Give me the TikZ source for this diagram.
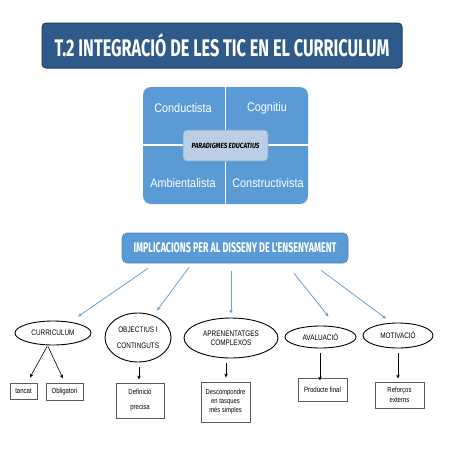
\documentclass[tikz,border=0pt]{standalone}
\usepackage{fontspec}
\usepackage{graphicx}
\usetikzlibrary{shapes.geometric,arrows.meta,calc}
\newfontfamily\nsans[FakeStretch=0.8]{Liberation Sans}
\newfontfamily\gsans[FakeStretch=0.87]{Liberation Sans}
\newfontfamily\comic{Fira Sans}
\definecolor{titleblue}{HTML}{2D5A88}
\definecolor{titleedge}{HTML}{1E3F62}
\definecolor{gridblue}{HTML}{5B9BD5}
\definecolor{implblue}{HTML}{5B9BD5}
\definecolor{centerfill}{HTML}{BCCDE6}
\definecolor{centeredge}{HTML}{7FA3D3}
\definecolor{arrowblue}{HTML}{6C9FD0}
\definecolor{boxedge}{HTML}{5A5A5A}
\tikzset{
  ell/.style={ellipse, draw=black, line width=0.9pt, fill=white, inner sep=0pt, align=center, font=\nsans\fontsize{8}{10}\selectfont},
  leaf/.style={rectangle, draw=boxedge, line width=0.9pt, fill=white, inner sep=0pt, align=center, font=\nsans\fontsize{7.5}{10}\selectfont},
  gridtext/.style={text=white, font=\gsans\fontsize{12.5}{14}\selectfont},
  barrow/.style={draw=arrowblue, line width=0.8pt, -{Stealth[length=4pt,width=3.5pt]}},
  karrow/.style={draw=black, line width=0.6pt, -{Stealth[length=4pt,width=3.5pt]}},
}
\begin{document}
\begin{tikzpicture}[x=1pt,y=-1pt]
\useasboundingbox (0,0) rectangle (453,453);
\fill[white] (0,0) rectangle (453,453);

% title
\node[rectangle, rounded corners=4pt, fill=titleblue, draw=titleedge, line width=1pt,
  minimum width=360pt, minimum height=45pt, inner sep=0pt] (title) at (222,45.5) {};
\node[text=white, inner sep=0pt] (titletext) at (title.center)
  {\resizebox{335pt}{\height}{\comic\bfseries\fontsize{24}{24}\selectfont T.2 INTEGRACIÓ DE LES TIC EN EL CURRICULUM}};

% paradigm grid
\fill[gridblue, rounded corners=8pt] (143,87) rectangle (308,204);
\draw[white, line width=1.3pt] (225.5,87) -- (225.5,204);
\draw[white, line width=1.3pt] (143,145) -- (308,145);
\node[gridtext] (cond) at (183,108) {Conductista};
\node[gridtext] (cogn) at (267,108) {Cognitiu};
\node[gridtext] (ambi) at (183,183) {Ambientalista};
\node[gridtext] (cons) at (268,183) {Constructivista};
\node[rectangle, rounded corners=4pt, fill=centerfill, draw=centeredge, line width=0.6pt,
  minimum width=85pt, minimum height=31pt, inner sep=0pt] (parad) at (225.5,145.5)
  {\resizebox{68pt}{\height}{\comic\bfseries\itshape\fontsize{7.5}{8}\selectfont PARADIGMES EDUCATIUS}};

% implications
\node[rectangle, rounded corners=5pt, fill=implblue, draw=implblue!85!black, line width=0.6pt,
  minimum width=226pt, minimum height=30pt, inner sep=0pt, text=white] (impl) at (235,248)
  {\resizebox{203pt}{\height}{\comic\bfseries\fontsize{14}{14}\selectfont IMPLICACIONS PER AL DISSENY DE L'ENSENYAMENT}};

% ellipses
\node[ell, minimum width=76pt, minimum height=24pt] (cur) at (53,333) {CURRICULUM};
\node[ell, minimum width=66pt, minimum height=49pt] (obj) at (138,337.5) {OBJECTIUS I\\[6pt]CONTINGUTS};
\node[ell, minimum width=94pt, minimum height=40pt] (apr) at (231,338) {APRENENTATGES\\[-1pt]COMPLEXOS};
\node[ell, minimum width=71pt, minimum height=22pt] (ava) at (320.5,337) {AVALUACIÓ};
\node[ell, minimum width=70pt, minimum height=25pt] (mot) at (398,335.5) {MOTIVACIÓ};

% leaf boxes
\node[leaf, minimum width=27pt, minimum height=16pt] (tan) at (23.5,391) {tancat};
\node[leaf, minimum width=37pt, minimum height=17pt] (obl) at (64.5,391.5) {Obligatori};
\node[leaf, minimum width=48pt, minimum height=35pt] (def) at (140,400.5) {Definició\\[5pt]precisa};
\node[leaf, minimum width=49pt, minimum height=40pt, font=\nsans\fontsize{7.3}{10}\selectfont] (des) at (225.5,402)
  {Descompondre\\[-1pt]en tasques\\[-1pt]més simples};
\node[leaf, minimum width=49pt, minimum height=23pt] (pro) at (322.5,389.5) {Producte final};
\node[leaf, minimum width=49pt, minimum height=26pt] (ref) at (399.5,395) {Reforços\\[0pt]externs};

% blue connectors
\draw[barrow] ($(impl.south)+(-87,5)$) -- ($(cur.north)+(25,-4)$);
\draw[barrow] ($(impl.south)+(-46,4)$) -- ($(obj.north)+(19,-2)$);
\draw[barrow] ($(impl.south)+(-4,8)$) -- ($(apr.north)+(0,-4)$);
\draw[barrow] ($(impl.south)+(59,10)$) -- ($(ava.north)+(8,-9)$);
\draw[barrow] ($(impl.south)+(86,7)$) -- ($(mot.north)+(-12,-4)$);

% black connectors
\draw[karrow] ($(cur.south)+(-6,1)$) -- ($(tan.north)+(6.5,-5)$);
\draw[karrow] ($(cur.south)+(-5,1)$) -- ($(obl.north)+(-1.5,-4)$);
\draw[karrow] ($(obj.south)+(1,5)$) -- ($(def.north)+(-1,-3)$);
\draw[karrow] ($(apr.south)+(-5,5)$) -- ($(des.north)+(0.5,-4)$);
\draw[karrow] ($(ava.south)+(-0.5,5)$) -- ($(pro.north)+(-2.5,3)$);
\draw[karrow] ($(mot.south)+(0,5)$) -- ($(ref.north)+(-1.5,-3)$);
\end{tikzpicture}
\end{document}
